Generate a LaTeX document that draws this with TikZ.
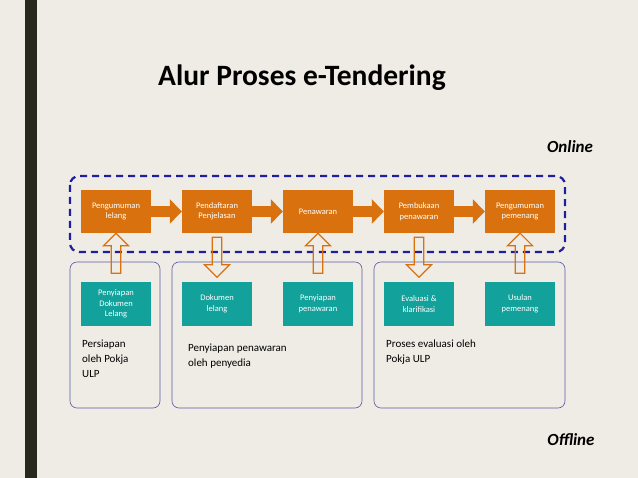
\documentclass[tikz,border=0pt]{standalone}
\usepackage{fontspec}
\setmainfont{Carlito}
\usetikzlibrary{shapes.arrows,arrows.meta}
\definecolor{bg}{HTML}{EFECE5}
\definecolor{bar}{HTML}{27291C}
\definecolor{org}{HTML}{D9720E}
\definecolor{teal}{HTML}{12A29B}
\definecolor{dblue}{HTML}{1E1E9E}
\definecolor{pblue}{HTML}{5A5AA8}
\begin{document}
\begin{tikzpicture}[x=1pt,y=-1pt,
 ob/.style={fill=org,minimum width=70pt,minimum height=43pt,text=white,font=\fontsize{8.5}{10.5}\selectfont,align=center,inner sep=1pt},
 tb/.style={fill=teal,minimum width=70pt,minimum height=44pt,text=white,font=\fontsize{8.5}{10.5}\selectfont,align=center,inner sep=1pt},
 fa/.style={draw=org,line width=11pt,-{Triangle[width=24pt,length=12pt]}},
 ha/.style={single arrow,draw=org,line width=1.2pt,fill=none,minimum width=25pt,single arrow head extend=6pt,inner sep=3pt},
 grp/.style={draw=pblue,line width=0.6pt,rounded corners=7pt},
 lt/.style={font=\fontsize{11}{15}\selectfont,align=left,anchor=north west,inner sep=0pt}]
\fill[bg] (0,0) rectangle (638,478);
\useasboundingbox (0,0) rectangle (638,478);
\fill[bar] (25,0) rectangle (37,478);
\node[font=\bfseries\fontsize{29.5}{32}\selectfont,text=black] (title) at (302,78) {Alur Proses e-Tendering};
\node[font=\bfseries\itshape\fontsize{17}{20}\selectfont] (on) at (570,147) {Online};
\node[font=\bfseries\itshape\fontsize{17}{20}\selectfont] (off) at (571,440) {Offline};
\draw[grp] (70,262) rectangle (160,408);
\draw[grp] (172,262) rectangle (362,408);
\draw[grp] (374,262) rectangle (565,408);
\draw[dblue,line width=2.2pt,dash pattern=on 7pt off 5pt,rounded corners=9pt] (70,176) rectangle (565,252);
\node[ob] (o1) at (116,211.5) {Pengumuman\\lelang};
\node[ob] (o2) at (217,211.5) {Pendaftaran\\Penjelasan};
\node[ob] (o3) at (318,211.5) {Penawaran};
\node[ob] (o4) at (419,211.5) {Pembukaan\\penawaran};
\node[ob] (o5) at (520,211.5) {Pengumuman\\pemenang};
\foreach \a/\b in {o1/o2,o2/o3,o3/o4,o4/o5}{
 \draw[fa] (\a.east) -- (\b.west);}
\node[tb] (t1) at (116,304) {Penyiapan\\Dokumen\\Lelang};
\node[tb] (t2) at (217,304) {Dokumen\\lelang};
\node[tb] (t3) at (318,304) {Penyiapan\\penawaran};
\node[tb] (t4) at (419,304) {Evaluasi \&\\klarifikasi};
\node[tb] (t5) at (520,304) {Usulan\\pemenang};
\node[ha,rotate=90,minimum height=40pt] (a1) at (116,255.5) {};
\node[ha,rotate=-90,minimum height=40pt] (a2) at (217,255) {};
\node[ha,rotate=90,minimum height=40pt] (a3) at (318,255.5) {};
\node[ha,rotate=-90,minimum height=40pt] (a4) at (419,255) {};
\node[ha,rotate=90,minimum height=40pt] (a5) at (520,255.5) {};
\node[lt] (l1) at (82,340) {Persiapan\\oleh Pokja\\ULP};
\node[lt] (l2) at (188,344) {Penyiapan penawaran\\oleh penyedia};
\node[lt] (l3) at (386,340) {Proses evaluasi oleh\\Pokja ULP};
\end{tikzpicture}
\end{document}
